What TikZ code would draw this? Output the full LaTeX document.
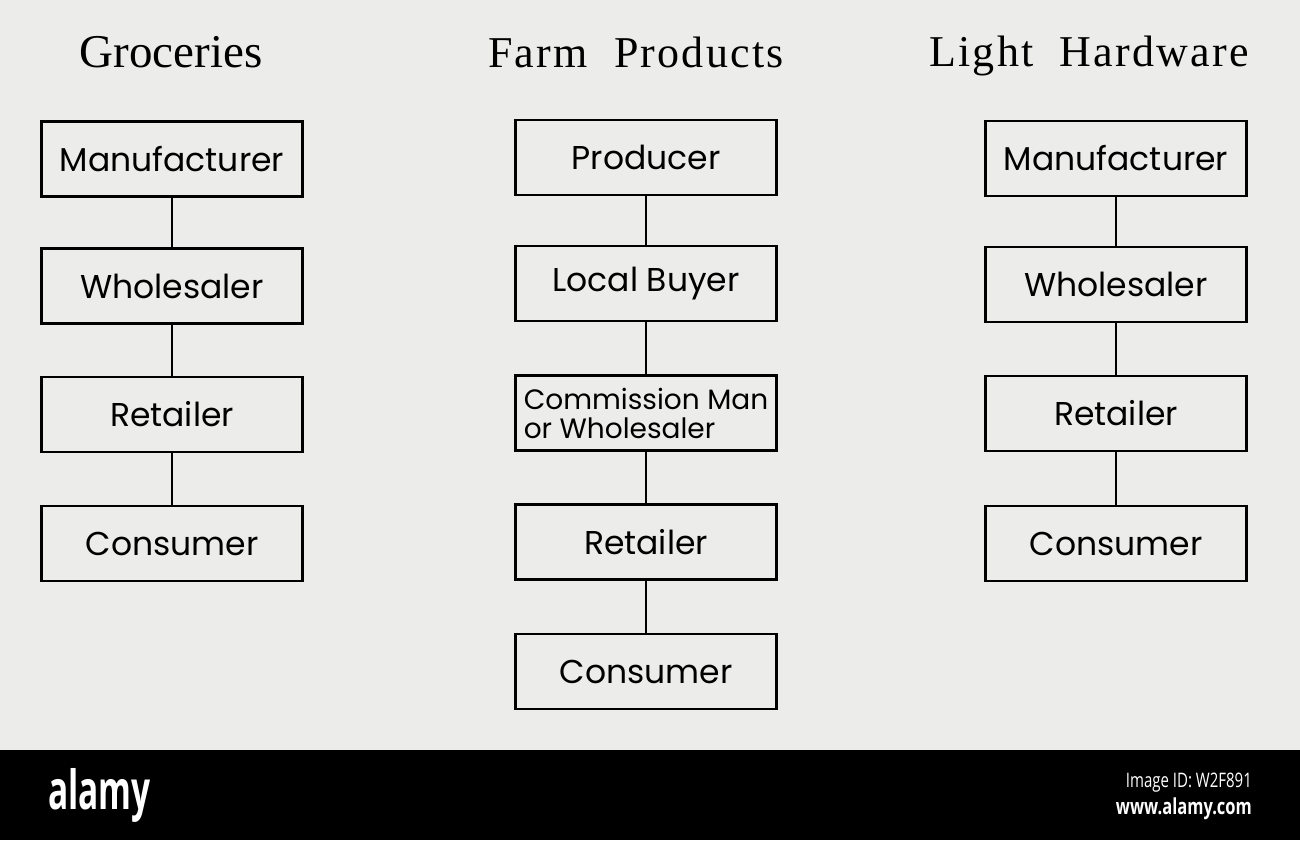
\documentclass[tikz,border=0pt]{standalone}
\usepackage{fontspec}
\setmainfont{Liberation Serif}
\setsansfont{Poppins}
\newfontfamily\bandfont{Open Sans}
\newfontfamily\widefont[LetterSpace=5]{Liberation Serif}
\definecolor{paper}{RGB}{236,236,234}

\begin{document}
\begin{tikzpicture}
[every node/.style={inner sep=0pt},
 box/.style={rectangle, minimum width=261pt, minimum height=75pt, fill=paper, line width=2.2pt, draw=black, font=\sffamily\fontsize{33}{36}\selectfont},
 title/.style={anchor=base, font=\fontsize{47}{50}\selectfont},
 widetitle/.style={anchor=base, font=\widefont\fontsize{44}{48}\selectfont},
 link/.style={line width=1.6pt, color=black}]
\useasboundingbox (0pt, 0pt) rectangle (1300pt, -840pt);
\fill [paper] (0pt, 0pt) rectangle (1300pt, -750pt);
\fill [black] (0pt, -750pt) rectangle (1300pt, -840pt);
% column headings
\node (tg) [title] at (171.0pt, -68.0pt) {Groceries};
\node (tf) [widetitle] at (636.0pt, -68.0pt) {Farm\ \ Products};
\node (th) [widetitle] at (1089.0pt, -67.0pt) {Light\ \ Hardware};
% groceries
\node (g1) [box] at (172.0pt, -159.0pt) {Manufacturer};
\node (g2) [box] at (172.0pt, -286.0pt) {Wholesaler};
\node (g3) [box] at (172.0pt, -414.5pt) {Retailer};
\node (g4) [box] at (172.0pt, -543.5pt) {Consumer};
% farm products
\node (f1) [box] at (646.0pt, -157.5pt) {Producer};
\node (f2) [box] at (646.0pt, -283.5pt) {Local Buyer};
\node (f3) [box, align=left, font=\sffamily\fontsize{28}{29}\selectfont] at (646.0pt, -413.0pt) {Commission Man\\or Wholesaler};
\node (f4) [box] at (646.0pt, -542.0pt) {Retailer};
\node (f5) [box] at (646.0pt, -671.5pt) {Consumer};
% light hardware
\node (h1) [box] at (1116.0pt, -158.5pt) {Manufacturer};
\node (h2) [box] at (1116.0pt, -284.5pt) {Wholesaler};
\node (h3) [box] at (1116.0pt, -413.5pt) {Retailer};
\node (h4) [box] at (1116.0pt, -543.5pt) {Consumer};
\draw [link] (g1) to (g2);
\draw [link] (g2) to (g3);
\draw [link] (g3) to (g4);
\draw [link] (f1) to (f2);
\draw [link] (f2) to (f3);
\draw [link] (f3) to (f4);
\draw [link] (f4) to (f5);
\draw [link] (h1) to (h2);
\draw [link] (h2) to (h3);
\draw [link] (h3) to (h4);
% footer band
\node (logo) [anchor=west, text=white, xscale=0.62, font=\bandfont\bfseries\fontsize{54}{56}\selectfont] at (48.0pt, -795.0pt) {alamy};
\node (imgid) [anchor=east, text=white, xscale=0.75, font=\bandfont\fontsize{20}{22}\selectfont] at (1252.0pt, -783.0pt) {Image ID: W2F891};
\node (site) [anchor=east, text=white, xscale=0.75, font=\bandfont\bfseries\fontsize{22}{24}\selectfont] at (1252.0pt, -809.0pt) {www.alamy.com};
\end{tikzpicture}
\end{document}
